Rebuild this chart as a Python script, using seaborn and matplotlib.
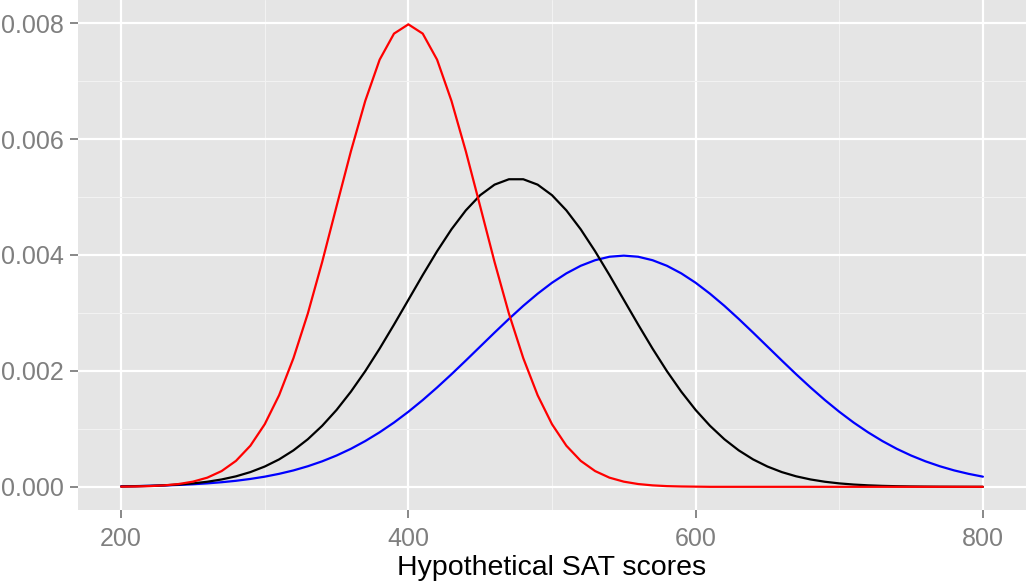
import matplotlib
matplotlib.use("Agg")
import matplotlib.pyplot as plt
import seaborn as sns
import pandas as pd
from matplotlib.ticker import MultipleLocator, FormatStrFormatter

scores = list(range(200, 801, 10))

red_density = [
    0.000003, 0.000006, 0.000012, 0.000025, 0.000048, 0.000089, 0.000158, 0.000272,
    0.000448, 0.000709, 0.00108, 0.00158, 0.00222, 0.00299, 0.00388, 0.00484,
    0.00579, 0.00666, 0.00737, 0.00782, 0.00798, 0.00782, 0.00737, 0.00666,
    0.00579, 0.00484, 0.00388, 0.00299, 0.00222, 0.00158, 0.00108, 0.000709,
    0.000448, 0.000272, 0.000158, 0.000089, 0.000048, 0.000025, 0.000012, 0.000006,
    0.000003, 0, 0, 0, 0, 0, 0, 0, 0, 0, 0, 0, 0, 0, 0, 0, 0, 0, 0, 0, 0,
]

black_density = [
    0.0000064, 0.0000104, 0.0000164, 0.0000256, 0.0000393, 0.0000591, 0.0000874, 0.000127,
    0.000181, 0.000254, 0.000350, 0.000473, 0.000629, 0.000821, 0.001053, 0.001326,
    0.001642, 0.001996, 0.002385, 0.002799, 0.003226, 0.003654, 0.004065, 0.004443,
    0.004770, 0.005032, 0.005214, 0.005307, 0.005307, 0.005214, 0.005032, 0.004770,
    0.004443, 0.004065, 0.003654, 0.003226, 0.002799, 0.002385, 0.001996, 0.001642,
    0.001326, 0.001053, 0.000821, 0.000629, 0.000473, 0.000350, 0.000254, 0.000181,
    0.000127, 0.0000874, 0.0000591, 0.0000393, 0.0000256, 0.0000164, 0.0000104, 0.0000064,
    0.0000039, 0.0000023, 0.0000014, 0.0000008, 0.0000004,
]

blue_density = [
    0.0000087, 0.0000123, 0.0000172, 0.0000238, 0.0000327, 0.0000443, 0.0000595, 0.0000792,
    0.000104, 0.000136, 0.000175, 0.000224, 0.000283, 0.000355, 0.000440, 0.000540,
    0.000656, 0.000790, 0.000941, 0.001109, 0.001295, 0.001497, 0.001714, 0.001942,
    0.002179, 0.002420, 0.002661, 0.002897, 0.003123, 0.003332, 0.003521, 0.003683,
    0.003814, 0.003910, 0.003970, 0.003989, 0.003970, 0.003910, 0.003814, 0.003683,
    0.003521, 0.003332, 0.003123, 0.002897, 0.002661, 0.002420, 0.002179, 0.001942,
    0.001714, 0.001497, 0.001295, 0.001109, 0.000941, 0.000790, 0.000656, 0.000540,
    0.000440, 0.000355, 0.000283, 0.000224, 0.000175,
]

x_ticks = [200, 400, 600, 800]
y_ticks = [0.000, 0.002, 0.004, 0.006, 0.008]
x_label = "Hypothetical SAT scores"

df = pd.concat([
    pd.DataFrame({"score": scores, "density": blue_density, "group": "blue"}),
    pd.DataFrame({"score": scores, "density": black_density, "group": "black"}),
    pd.DataFrame({"score": scores, "density": red_density, "group": "red"}),
])

sns.set_theme(style="darkgrid")
plt.rcParams["font.family"] = ["Liberation Sans", "DejaVu Sans"]

fig = plt.figure(figsize=(10.31, 5.82), dpi=100)
ax = fig.add_axes([78 / 1031, 1 - 510 / 582, 948 / 1031, 510 / 582])
ax.set_facecolor("#e5e5e5")

sns.lineplot(data=df, x="score", y="density", hue="group",
             palette={"blue": "#0000ff", "black": "#000000", "red": "#ff0000"},
             hue_order=["blue", "black", "red"], linewidth=1.6, legend=False,
             ax=ax, zorder=3)

ax.set_xlim(170, 830)
ax.set_ylim(-0.0004, 0.0084)
ax.set_xticks(x_ticks)
ax.set_yticks(y_ticks)
ax.xaxis.set_minor_locator(MultipleLocator(100))
ax.yaxis.set_minor_locator(MultipleLocator(0.001))
ax.yaxis.set_major_formatter(FormatStrFormatter("%.3f"))
ax.grid(which="major", color="white", linewidth=1.6)
ax.grid(which="minor", color="#f2f2f2", linewidth=0.8)
ax.set_axisbelow(True)
for s in ax.spines.values():
    s.set_visible(False)

ax.tick_params(axis="both", which="major", length=6, width=1.3, color="#7f7f7f",
               labelcolor="#7f7f7f", labelsize=18, pad=4, bottom=True, left=True)
ax.tick_params(axis="x", which="major", pad=6)
ax.tick_params(axis="both", which="minor", length=0)
ax.set_xlabel(x_label, fontsize=20.5, color="black", labelpad=3)
ax.set_ylabel("")

fig.savefig("out.png", dpi=100)
